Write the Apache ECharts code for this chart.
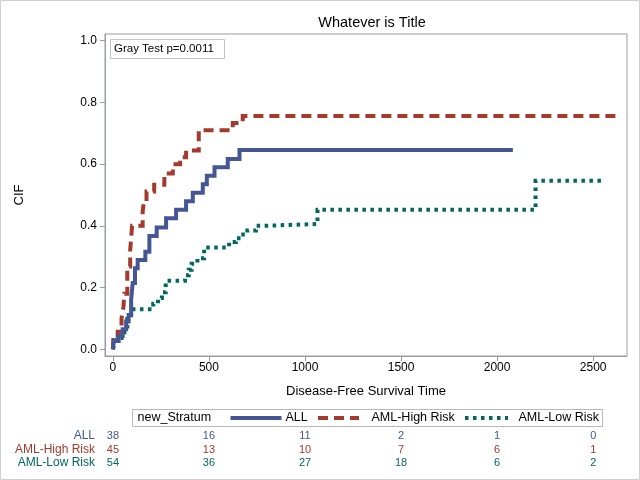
<!DOCTYPE html>
<html><head><meta charset="utf-8">
<script src="https://cdn.jsdelivr.net/npm/echarts@6/dist/echarts.min.js"></script>
<style>html,body{margin:0;padding:0;background:#fff}#c{width:640px;height:480px}</style>
</head><body><div id="c"></div>
<script>
// ---- data ----
const strata = ['ALL', 'AML-High Risk', 'AML-Low Risk'];
const cifAll = [[0,0],[5,0.027],[30,0.043],[51,0.065],[69,0.09],[82,0.111],[95,0.16],[103,0.215],[115,0.263],[129,0.289],[169,0.316],[190,0.367],[228,0.395],[277,0.425],[329,0.452],[381,0.48],[416,0.507],[468,0.535],[489,0.562],[529,0.59],[598,0.617],[659,0.646],[2082,0.646]];
const cifHigh = [[0,0],[2,0.03],[25,0.057],[45,0.1],[55,0.138],[60,0.18],[75,0.268],[90,0.32],[100,0.4],[155,0.445],[160,0.473],[175,0.511],[215,0.533],[268,0.57],[312,0.6],[350,0.622],[381,0.644],[447,0.71],[624,0.733],[676,0.756],[2633,0.756]];
const cifLow = [[0,0],[10,0.018],[20,0.037],[45,0.055],[60,0.074],[75,0.11],[95,0.13],[210,0.148],[235,0.166],[255,0.185],[275,0.222],[375,0.24],[395,0.258],[410,0.277],[440,0.295],[475,0.33],[605,0.348],[640,0.36],[668,0.372],[700,0.385],[745,0.4],[775,0.406],[1065,0.452],[2200,0.546],[2555,0.546]];
const xTicks = [0, 500, 1000, 1500, 2000, 2500];
const yTicks = [0, 0.2, 0.4, 0.6, 0.8, 1.0];
const riskTimes = [0, 500, 1000, 1500, 2000, 2500];
const riskAll = [38, 16, 11, 2, 1, 0];
const riskHigh = [45, 13, 10, 7, 6, 1];
const riskLow = [54, 36, 27, 18, 6, 2];
const titleText = 'Whatever is Title';
const grayText = 'Gray Test p=0.0011';
const legendTitle = 'new_Stratum';
const xName = 'Disease-Free Survival Time';
const yName = 'CIF';

// ---- style ----
const FONT = '"Liberation Sans", Arial, sans-serif';
const colors = ['#445694', '#A23A2E', '#01665E'];
const dashes = ['solid', [10, 6], [3.5, 4.5]];
const widths = [4, 4, 4];
const frameColor = '#9a9da3';

const chart = echarts.init(document.getElementById('c'), null, {renderer: 'canvas'});
const cifs = [cifAll, cifHigh, cifLow];

const option = {
  animation: false,
  backgroundColor: '#fff',
  textStyle: {fontFamily: FONT},
  title: {
    text: titleText, left: 367, top: 10, textAlign: 'center',
    textStyle: {fontFamily: FONT, fontSize: 14.5, fontWeight: 'normal', color: '#000'}
  },
  grid: {left: 105, right: 13, top: 34, bottom: 124, show: true, borderColor: frameColor, borderWidth: 1, backgroundColor: 'transparent'},
  xAxis: {
    type: 'value', min: -41, max: 2676,
    name: xName, nameLocation: 'middle', nameGap: 29,
    nameTextStyle: {fontFamily: FONT, fontSize: 13, color: '#000'},
    axisLine: {show: true, onZero: false, lineStyle: {color: frameColor}},
    axisTick: {show: true, length: 5, customValues: xTicks, lineStyle: {color: frameColor}},
    axisLabel: {customValues: xTicks, margin: 6, fontFamily: FONT, fontSize: 12, color: '#000',
      formatter: v => String(Math.round(v))},
    splitLine: {show: false}
  },
  yAxis: {
    type: 'value', min: -0.0217, max: 1.0217,
    name: yName, nameLocation: 'middle', nameGap: 79, nameRotate: 90,
    nameTextStyle: {fontFamily: FONT, fontSize: 13, color: '#000'},
    axisLine: {show: true, onZero: false, lineStyle: {color: frameColor}},
    axisTick: {show: true, length: 5, customValues: yTicks, lineStyle: {color: frameColor}},
    axisLabel: {customValues: yTicks, margin: 8, fontFamily: FONT, fontSize: 12, color: '#000',
      formatter: v => Number(v).toFixed(1)},
    splitLine: {show: false}
  },
  series: strata.map((s, i) => ({
    name: s, type: 'line', step: 'end', data: cifs[i],
    symbol: 'none', showSymbol: false, clip: true,
    lineStyle: {color: colors[i], width: widths[i], type: dashes[i], cap: 'butt', join: 'miter'},
    z: 3 - i
  }))
};
chart.setOption(option);

// ---- annotations built from the library's scales ----
const g = [];
// border of the whole image
g.push({type: 'rect', shape: {x: 0.5, y: 0.5, width: 639, height: 479}, style: {fill: 'none', stroke: '#cfcfcf', lineWidth: 1}, silent: true});
// Gray test inset
g.push({type: 'rect', shape: {x: 110.5, y: 39.5, width: 114, height: 19}, style: {fill: '#fff', stroke: '#c4c4c4', lineWidth: 1}, z: 10});
g.push({type: 'text', x: 114, y: 49, style: {text: grayText, fontFamily: FONT, fontSize: 11.5, fill: '#000', verticalAlign: 'middle'}, z: 11});

// legend
const ly = 418;
g.push({type: 'rect', shape: {x: 132.5, y: 409.5, width: 470, height: 17}, style: {fill: '#fff', stroke: '#b8b8b8', lineWidth: 1}});
g.push({type: 'text', x: 137.5, y: ly, style: {text: legendTitle, fontFamily: FONT, fontSize: 12.5, fill: '#000', verticalAlign: 'middle'}});
const legX = [[230.5, 281.5, 285.5], [318, 359, 371.5], [465, 508, 518.5]];
strata.forEach((s, i) => {
  g.push({type: 'line', shape: {x1: legX[i][0], y1: ly, x2: legX[i][1], y2: ly},
    style: {stroke: colors[i], lineWidth: widths[i], lineDash: dashes[i] === 'solid' ? null : dashes[i], lineCap: 'butt'}});
  g.push({type: 'text', x: legX[i][2], y: ly, style: {text: s, fontFamily: FONT, fontSize: 12.5, fill: '#000', verticalAlign: 'middle'}});
});

// at-risk table
const rows = [riskAll, riskHigh, riskLow];
const rowY = [436, 449.5, 462.5];
rows.forEach((r, i) => {
  g.push({type: 'text', x: 95, y: rowY[i], style: {text: strata[i], fontFamily: FONT, fontSize: 12, fill: colors[i], align: 'right', verticalAlign: 'middle'}});
  r.forEach((n, j) => {
    const px = chart.convertToPixel({xAxisIndex: 0}, riskTimes[j]);
    g.push({type: 'text', x: px, y: rowY[i], style: {text: String(n), fontFamily: FONT, fontSize: 11, fill: colors[i], align: 'center', verticalAlign: 'middle'}});
  });
});
chart.setOption({graphic: g});
</script>
</body></html>
